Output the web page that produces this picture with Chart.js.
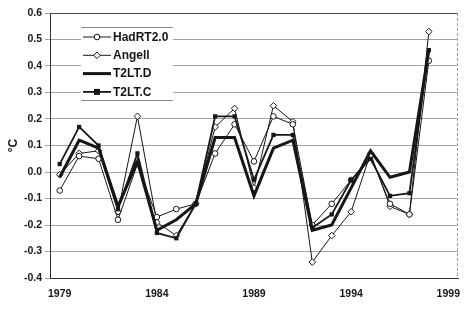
<!DOCTYPE html>
<html>
<head>
<meta charset="utf-8">
<script src="https://cdn.jsdelivr.net/npm/chart.js@4.4.1/dist/chart.umd.min.js"></script>
<style>
  html, body { margin: 0; padding: 0; background: #fff; }
  #wrap { width: 474px; height: 329px; }
</style>
</head>
<body>
<div id="wrap"><canvas id="tempChart" width="474" height="329"></canvas></div>
<script>
'use strict';

// years on the category axis (1999 is only a tick, no data)
const years = ['1979', '1980', '1981', '1982', '1983', '1984', '1985', '1986', '1987', '1988',
    '1989', '1990', '1991', '1992', '1993', '1994', '1995', '1996', '1997', '1998', '1999'];

const hadrt = [-0.07, 0.06, 0.05, -0.18, 0.03, -0.17, -0.14, -0.12, 0.07, 0.18,
    0.04, 0.21, 0.18, -0.20, -0.12, -0.03, 0.06, -0.12, -0.16, 0.42];
const angell = [-0.01, 0.07, 0.08, -0.15, 0.21, -0.19, -0.24, -0.12, 0.17, 0.24,
    -0.06, 0.25, 0.19, -0.34, -0.24, -0.15, 0.07, -0.13, -0.16, 0.53];
const t2ltD = [-0.02, 0.12, 0.09, -0.13, 0.04, -0.22, -0.18, -0.12, 0.13, 0.13,
    -0.09, 0.09, 0.12, -0.22, -0.20, -0.06, 0.08, -0.02, 0.00, 0.46];
const t2ltC = [0.03, 0.17, 0.10, -0.14, 0.07, -0.23, -0.25, -0.12, 0.21, 0.21,
    -0.03, 0.14, 0.14, -0.21, -0.16, -0.03, 0.05, -0.09, -0.08, 0.46];

const seriesNames = ['HadRT2.0', 'Angell', 'T2LT.D', 'T2LT.C'];

const FONT = '"Liberation Sans", Arial, Helvetica, sans-serif';
const INK = '#161616';

function drawMarker(ctx, style, x, y) {
    ctx.save();
    ctx.lineWidth = 1;
    ctx.strokeStyle = INK;
    if (style === 'circle') {
        ctx.fillStyle = '#fff';
        ctx.beginPath();
        ctx.arc(x, y, 2.8, 0, Math.PI * 2);
        ctx.fill();
        ctx.stroke();
    } else if (style === 'rectRot') {
        ctx.fillStyle = '#fff';
        ctx.beginPath();
        ctx.moveTo(x, y - 3.3);
        ctx.lineTo(x + 3.3, y);
        ctx.lineTo(x, y + 3.3);
        ctx.lineTo(x - 3.3, y);
        ctx.closePath();
        ctx.fill();
        ctx.stroke();
    } else if (style === 'rect') {
        ctx.fillStyle = INK;
        ctx.fillRect(x - 3, y - 3, 6, 6);
    }
    ctx.restore();
}

// legend box sitting inside the plot, top left
const insideLegend = {
    id: 'insideLegend',
    afterDatasetsDraw(chart) {
        const ctx = chart.ctx;
        const area = chart.chartArea;
        const x0 = area.left + 31;
        const y0 = area.top + 14;
        const w = 92, h = 73;
        ctx.save();
        ctx.fillStyle = '#fff';
        ctx.fillRect(x0, y0, w, h);
        ctx.strokeStyle = '#8a8a8a';
        ctx.lineWidth = 1;
        ctx.beginPath();
        ctx.moveTo(x0, y0 + 0.5);
        ctx.lineTo(x0 + w, y0 + 0.5);
        ctx.moveTo(x0, y0 + h + 0.5);
        ctx.lineTo(x0 + w, y0 + h + 0.5);
        ctx.stroke();

        ctx.font = 'bold 12px ' + FONT;
        ctx.textBaseline = 'middle';
        ctx.textAlign = 'left';
        chart.data.datasets.forEach((ds, i) => {
            const yy = y0 + 10 + i * 18.3;
            ctx.strokeStyle = INK;
            ctx.lineWidth = ds.borderWidth;
            ctx.beginPath();
            ctx.moveTo(x0 + 2, yy);
            ctx.lineTo(x0 + 30, yy);
            ctx.stroke();
            if (ds.pointRadius > 0) {
                drawMarker(ctx, ds.pointStyle, x0 + 16, yy);
            }
            ctx.fillStyle = INK;
            ctx.fillText(ds.label, x0 + 32, yy + 0.5);
        });
        ctx.restore();
    }
};

// top and right edges of the plot frame
const frame = {
    id: 'frame',
    beforeDatasetsDraw(chart) {
        const ctx = chart.ctx;
        const a = chart.chartArea;
        ctx.save();
        ctx.strokeStyle = '#444';
        ctx.lineWidth = 1;
        ctx.beginPath();
        ctx.moveTo(a.left, a.top + 0.5);
        ctx.lineTo(a.right, a.top + 0.5);
        ctx.stroke();
        ctx.strokeStyle = '#9a9a9a';
        ctx.setLineDash([3, 2]);
        ctx.beginPath();
        ctx.moveTo(a.right - 0.5, a.top);
        ctx.lineTo(a.right - 0.5, a.bottom);
        ctx.stroke();
        ctx.restore();
    }
};

const chart = new Chart(document.getElementById('tempChart'), {
    type: 'line',
    data: {
        labels: years,
        datasets: [
            {
                label: seriesNames[0], data: hadrt,
                borderColor: INK, borderWidth: 1, backgroundColor: '#fff',
                pointStyle: 'circle', pointRadius: 2.8, pointBorderWidth: 1,
                pointBackgroundColor: '#fff', pointBorderColor: INK, order: 3
            },
            {
                label: seriesNames[1], data: angell,
                borderColor: INK, borderWidth: 1, backgroundColor: '#fff',
                pointStyle: 'rectRot', pointRadius: 3.3, pointBorderWidth: 1,
                pointBackgroundColor: '#fff', pointBorderColor: INK, order: 4
            },
            {
                label: seriesNames[2], data: t2ltD,
                borderColor: INK, borderWidth: 3, pointRadius: 0, order: 1
            },
            {
                label: seriesNames[3], data: t2ltC,
                borderColor: INK, borderWidth: 1.8, backgroundColor: INK,
                pointStyle: 'rect', pointRadius: 3, pointBorderWidth: 0,
                pointBackgroundColor: INK, order: 2
            }
        ]
    },
    options: {
        responsive: false,
        animation: false,
        devicePixelRatio: 1,
        layout: { padding: { top: 13, right: 16, bottom: 0, left: 0 } },
        elements: { line: { tension: 0 } },
        plugins: {
            legend: { display: false },
            tooltip: { enabled: false }
        },
        scales: {
            x: {
                type: 'category',
                offset: true,
                grid: { display: false, drawTicks: false },
                border: { display: true, color: '#333', width: 1 },
                ticks: {
                    autoSkip: false,
                    maxRotation: 0,
                    padding: 10,
                    color: INK,
                    font: { family: FONT, size: 10.5, weight: 'bold' },
                    callback: (val, idx) => (idx % 5 === 0 ? years[idx] : '')
                },
                afterFit: (scale) => { scale.height = 51; }
            },
            y: {
                min: -0.4,
                max: 0.6,
                grid: { color: '#a3a3a3', lineWidth: 1, tickLength: 5 },
                border: { display: true, color: '#333', width: 1 },
                ticks: {
                    stepSize: 0.1,
                    padding: 3,
                    color: INK,
                    font: { family: FONT, size: 10.5, weight: 'bold' },
                    callback: (v) => v.toFixed(1)
                },
                title: {
                    display: true,
                    text: '°C',
                    color: INK,
                    padding: { top: 6, bottom: 4 },
                    font: { family: FONT, size: 12, weight: 'bold' }
                },
                afterFit: (scale) => { scale.width = 50; }
            }
        }
    },
    plugins: [frame, insideLegend]
});
</script>
</body>
</html>
